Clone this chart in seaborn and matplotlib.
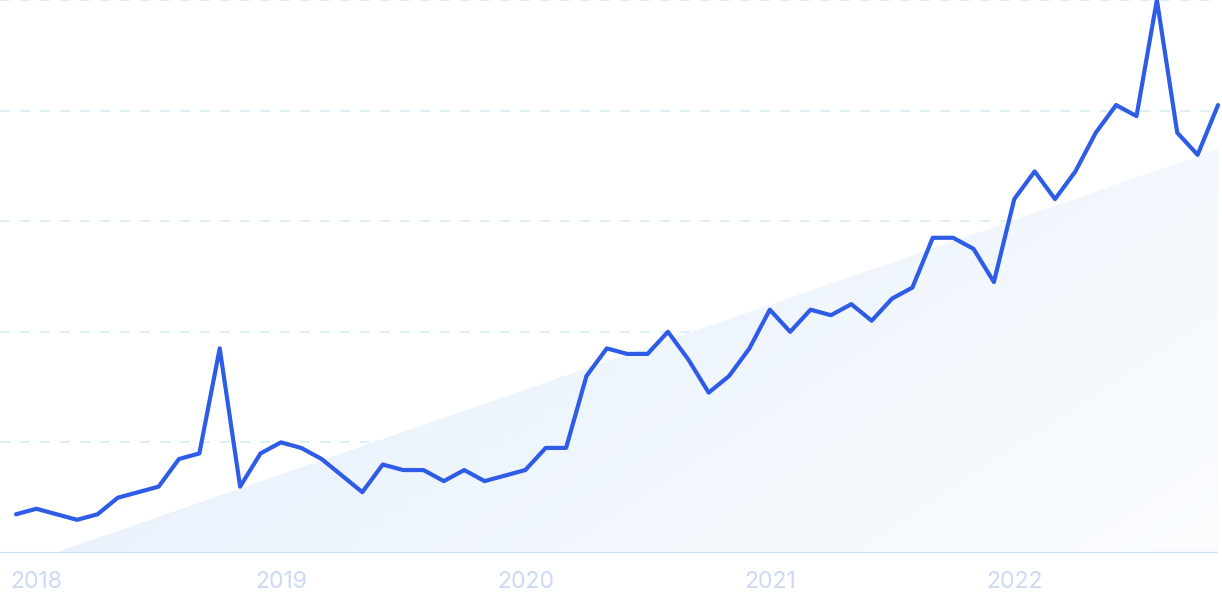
import numpy as np
import pandas as pd
import matplotlib
matplotlib.use("Agg")
import matplotlib.pyplot as plt
import seaborn as sns

# monthly interest, Dec 2017 .. Nov 2022 (0-100 scale)
months = pd.date_range("2017-12-01", periods=60, freq="MS")
interest = [7, 8, 7, 6, 7, 10, 11, 12, 17, 18,
            37, 12, 18, 20, 19, 17, 14, 11, 16, 15,
            15, 13, 15, 13, 14, 15, 19, 19, 32, 37,
            36, 36, 40, 35, 29, 32, 37, 44, 40, 44,
            43, 45, 42, 46, 48, 57, 57, 55, 49, 64,
            69, 64, 69, 76, 81, 79, 100, 76, 72, 81]
# trend band (start / end value)
trend_start = -2.4
trend_end = 73
year_labels = ["2018", "2019", "2020", "2021", "2022"]
year_idx = [1, 13, 25, 37, 49]

df = pd.DataFrame({"idx": np.arange(len(months)), "interest": interest})

sns.set_theme(style="white")
plt.rcParams["font.family"] = ["Inter", "DejaVu Sans"]

fig = plt.figure(figsize=(12.22, 6.10), dpi=100)
ax = fig.add_axes([0, 57 / 610, 1218 / 1222, 553 / 610])

x0 = -16 / 20.37
x1 = len(months) - 1
ax.set_xlim(x0, x1)
ax.set_ylim(0, 100)

# gradient-filled trend area
trend = np.array([trend_start, trend_end])
tx = np.array([0, x1])
xs = np.linspace(x0, x1, 300)
ty = np.interp(xs, tx, trend)
band = ax.fill_between(xs, 0, np.clip(ty, 0, None), color="none", lw=0)

gx, gy = np.meshgrid(np.linspace(0, 1, 400), np.linspace(1, 0, 300))
t = np.clip(0.65 * gx + 0.45 * (1 - gy) - 0.1, 0, 1)
c0 = np.array([225, 236, 250]) / 255
c1 = np.array([251, 253, 255]) / 255
img = c0[None, None, :] * (1 - t[..., None]) + c1[None, None, :] * t[..., None]
im = ax.imshow(img, extent=[x0, x1, 0, 100], aspect="auto", origin="upper",
               zorder=1, interpolation="bilinear")
im.set_clip_path(band.get_paths()[0], transform=ax.transData)

# grid lines
for v in [20, 40, 60, 80, 100]:
    ax.axhline(v, color="#d4edf6", lw=1.2, ls=(0, (6, 6)), zorder=0.5,
               clip_on=False)
ax.axhline(0, color="#c4e3fb", lw=1.5, zorder=2)

sns.lineplot(data=df, x="idx", y="interest", ax=ax, color="#2e5ce6",
             lw=3.0, zorder=3, clip_on=False)

for s in ax.spines.values():
    s.set_visible(False)
ax.set_xticks(year_idx)
ax.set_xticklabels(year_labels)
ax.tick_params(axis="x", length=0, pad=13, labelsize=16.5, labelcolor="#cdd8f6")
ax.set_yticks([])
ax.set_xlabel("")
ax.set_ylabel("")
ax.grid(False)

fig.savefig("out.png", dpi=100)
